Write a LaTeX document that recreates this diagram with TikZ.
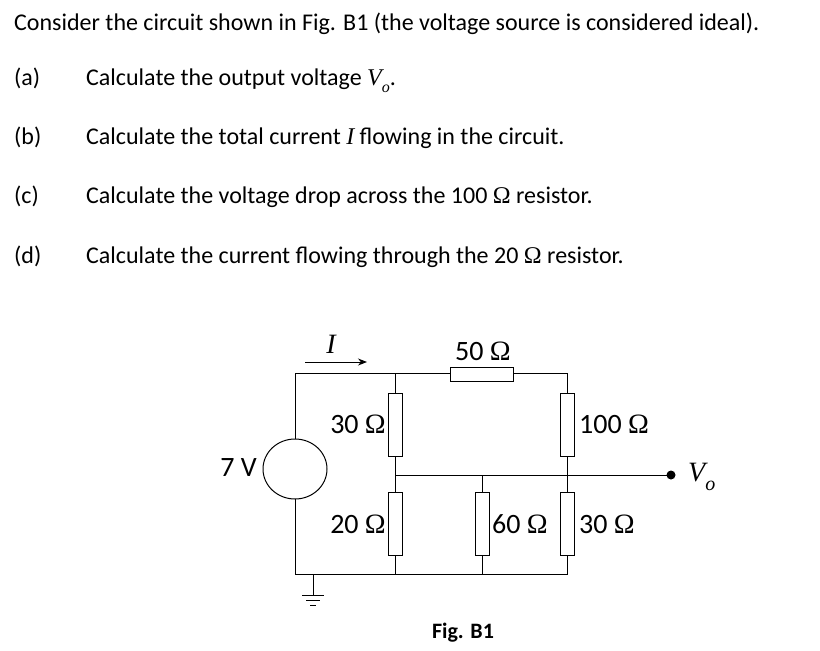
\documentclass[tikz,border=0pt]{standalone}
\usepackage{fontspec}
\usetikzlibrary{shapes.geometric,arrows.meta}
\setmainfont{Carlito}
\newfontfamily\srf{Liberation Serif}
\newcommand{\om}{{\srf Ω}}
\newcommand{\iv}[1]{{\srf\itshape #1}}
\newcommand{\sub}[1]{\raisebox{-0.3em}{\srf\itshape\fontsize{#1}{#1}\selectfont o}}
\begin{document}
\begin{tikzpicture}[x=1pt,y=-1pt,
  txt/.style={anchor=base west,inner sep=0pt,font=\fontsize{24}{28}\selectfont},
  lbl/.style={inner sep=0pt,font=\fontsize{28}{32}\selectfont},
  w/.style={line width=1pt},
  res/.style={draw,line width=1pt,fill=white,inner sep=0pt}]
\useasboundingbox (0,0) rectangle (820,651);
\node[txt] (t0) at (14,30) {Consider the circuit shown in Fig. B1 (the voltage source is considered ideal).};
\node[txt] (a) at (14,85) {(a)};
\node[txt] (ta) at (86,85) {Calculate the output voltage \iv{V}\sub{16}.};
\node[txt] (b) at (14,144) {(b)};
\node[txt] (tb) at (86,144) {Calculate the total current \iv{I} flowing in the circuit.};
\node[txt] (c) at (14,203) {(c)};
\node[txt] (tc) at (86,203) {Calculate the voltage drop across the 100 \om\ resistor.};
\node[txt] (d) at (14,263) {(d)};
\node[txt] (td) at (86,263) {Calculate the current flowing through the 20 \om\ resistor.};
% wires
\coordinate (tl) at (295,373); \coordinate (tm) at (395,373); \coordinate (tr) at (567,373);
\coordinate (ml) at (395,475); \coordinate (mm) at (482,475); \coordinate (mr) at (567,475);
\coordinate (bl) at (295,574); \coordinate (bm) at (395,574); \coordinate (bc) at (482,574); \coordinate (br) at (567,574);
\coordinate (vo) at (671,475);
\draw[w] (bl) -- (tl) -- (tr) -- (br) -- (bl);
\draw[w] (tm) -- (bm); \draw[w] (ml) -- (vo); \draw[w] (mm) -- (bc);
\node[draw,line width=1pt,fill=white,ellipse,minimum width=64pt,minimum height=60pt,inner sep=0pt] (src) at (295,469) {};
\node[res,minimum width=14pt,minimum height=63pt] (r30) at (395,424.5) {};
\node[res,minimum width=14pt,minimum height=63pt] (r20) at (395,523.5) {};
\node[res,minimum width=63pt,minimum height=14pt] (r50) at (481.5,374) {};
\node[res,minimum width=14pt,minimum height=63pt] (r100) at (567,424.5) {};
\node[res,minimum width=14pt,minimum height=63pt] (r60) at (482,523.5) {};
\node[res,minimum width=14pt,minimum height=63pt] (r30b) at (567,523.5) {};
\fill (vo) circle (4.5pt);
\node[lbl,anchor=west] (lvo) at (688,477) {\iv{V}\sub{20}};
% ground
\coordinate (g) at (313,574); \coordinate (g1) at (313,595);
\draw[w] (g) -- (g1);
\draw[w] (302,595) -- (324,595) (306,600) -- (320,600) (310,605) -- (316,605);
% current arrow
\coordinate (ia) at (305,362); \coordinate (ib) at (367,362);
\draw[w,-{Stealth[length=9pt,width=7pt]}] (ia) -- (ib);
\node[lbl] (li) at (331,344) {\iv{I}};
\node[lbl] (l50) at (483,351) {50 \om};
\node[lbl,anchor=east] (l30) at (386,424) {30 \om};
\node[lbl,anchor=west] (l100) at (579,424) {100 \om};
\node[lbl,anchor=east] (l20) at (386,524) {20 \om};
\node[lbl,anchor=west] (l60) at (492,524) {60 \om};
\node[lbl,anchor=west] (l30b) at (579,524) {30 \om};
\node[lbl,anchor=east] (l7) at (257,468) {7 V};
\node[lbl,font=\bfseries\fontsize{22}{26}\selectfont] (fig) at (463,633) {Fig. B1};
\end{tikzpicture}
\end{document}
